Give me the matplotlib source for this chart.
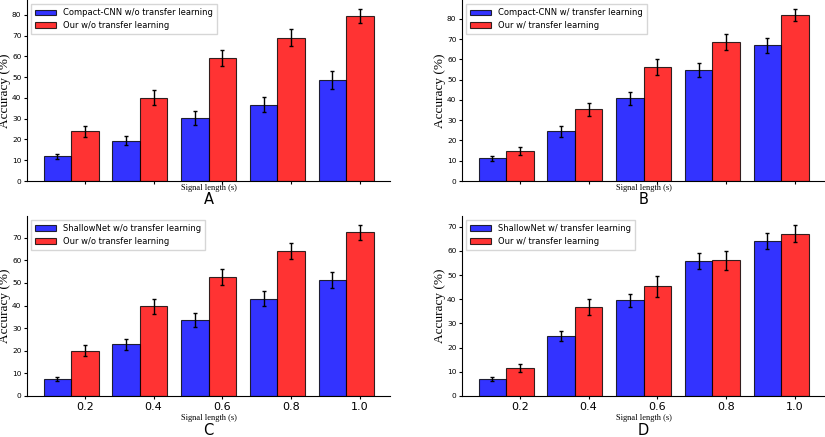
import matplotlib
matplotlib.use("Agg")
import matplotlib.pyplot as plt
import numpy as np

signal_lengths = ["0.2", "0.4", "0.6", "0.8", "1.0"]

# Panel A
a_base_label = "Compact-CNN w/o transfer learning"
a_our_label = "Our w/o transfer learning"
a_base = [11.9, 19.5, 30.5, 36.8, 48.7]
a_base_err = [1.2, 2.2, 3.4, 3.7, 4.2]
a_our = [24.0, 40.2, 59.2, 69.0, 79.5]
a_our_err = [2.6, 3.5, 3.9, 4.0, 3.5]

# Panel B
b_base_label = "Compact-CNN w/ transfer learning"
b_our_label = "Our w/ transfer learning"
b_base = [11.2, 24.5, 40.8, 54.9, 66.9]
b_base_err = [1.3, 2.6, 3.3, 3.5, 3.5]
b_our = [14.9, 35.4, 56.2, 68.6, 82.0]
b_our_err = [2.0, 3.3, 3.8, 3.8, 3.1]

# Panel C
c_base_label = "ShallowNet w/o transfer learning"
c_our_label = "Our w/o transfer learning"
c_base = [7.4, 22.9, 33.4, 43.1, 51.3]
c_base_err = [0.8, 2.5, 3.1, 3.4, 3.7]
c_our = [20.0, 39.7, 52.5, 64.0, 72.4]
c_our_err = [2.5, 3.4, 3.5, 3.5, 3.4]

# Panel D
d_base_label = "ShallowNet w/ transfer learning"
d_our_label = "Our w/ transfer learning"
d_base = [6.9, 24.8, 39.5, 55.8, 64.1]
d_base_err = [0.8, 2.1, 2.8, 3.3, 3.2]
d_our = [11.7, 36.8, 45.3, 56.2, 67.2]
d_our_err = [1.7, 3.3, 4.3, 3.9, 3.7]

panels = [
    ("A", a_base_label, a_our_label, a_base, a_base_err, a_our, a_our_err, False),
    ("B", b_base_label, b_our_label, b_base, b_base_err, b_our, b_our_err, False),
    ("C", c_base_label, c_our_label, c_base, c_base_err, c_our, c_our_err, True),
    ("D", d_base_label, d_our_label, d_base, d_base_err, d_our, d_our_err, True),
]

W, H = 825, 437
fig = plt.figure(figsize=(W / 100, H / 100), dpi=100)

# axes boxes in pixels: left, top, right, bottom
boxes = [(27, 0, 390, 181), (462, 0, 825, 181), (27, 216, 390, 396), (462, 216, 825, 396)]

serif = ["Liberation Serif", "DejaVu Serif"]
width = 0.4
for (letter, bl, ol, base, berr, our, oerr, show_labels), (l, t, r, b) in zip(panels, boxes):
    ax = fig.add_axes([l / W, (H - b) / H, (r - l) / W, (b - t) / H])
    x = np.arange(len(signal_lengths))
    ek = dict(ecolor="black", elinewidth=1.0, capsize=1.5, capthick=1.0)
    ax.bar(x - width, base, width, yerr=berr, color="b", alpha=0.8,
           edgecolor="black", linewidth=0.8, label=bl, error_kw=ek)
    ax.bar(x, our, width, yerr=oerr, color="r", alpha=0.8,
           edgecolor="black", linewidth=0.8, label=ol, error_kw=ek)
    ax.spines["top"].set_visible(False)
    ax.spines["right"].set_visible(False)
    ax.set_xticks(x)
    if show_labels:
        ax.set_xticklabels(signal_lengths, fontsize=8)
        xpad = 1
    else:
        ax.set_xticklabels([""] * len(x))
        xpad = -2.6
    ax.tick_params(axis="y", labelsize=5.3, length=2.5, pad=1.5)
    ax.tick_params(axis="x", length=2.5, pad=2)
    ax.set_ylabel("Accuracy (%)", fontsize=9.5, family=serif, labelpad=0.5)
    ax.set_xlabel("Signal length (s)", fontsize=6, family=serif, labelpad=xpad)
    ax.legend(loc="upper left", fontsize=6, handlelength=2.5, borderpad=0.5,
              labelspacing=0.4, fancybox=False, framealpha=0.8)
    cx = (l + r) / 2 / W
    ly = 199 if t == 0 else 430.5
    fig.text(cx, (H - ly) / H, letter, ha="center", va="center", fontsize=10.5)

fig.savefig("out.png", dpi=100)
